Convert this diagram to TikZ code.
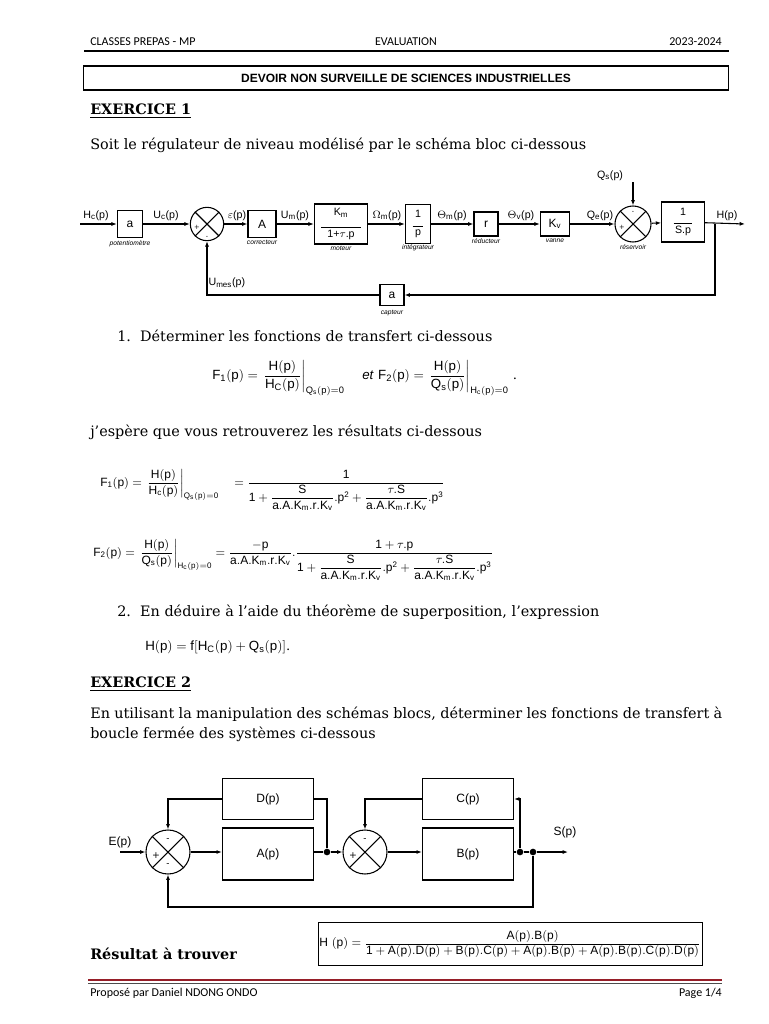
\documentclass[tikz,border=0pt]{standalone}
\usepackage{fontspec}
\usepackage{amsmath}
\setmainfont{DejaVu Serif}
\setsansfont{Liberation Sans}
\newfontfamily\hdr{Carlito}
\usetikzlibrary{arrows.meta}
\definecolor{redline}{RGB}{150,30,40}
\tikzset{
  blk/.style={draw,thick,minimum height=20pt,inner sep=2pt,font=\sffamily\small},
  bblk/.style={draw,very thick,minimum width=68pt,minimum height=31pt,font=\sffamily\small},
  sumc/.style={draw,thick,circle,minimum size=25pt,inner sep=0pt},
  sig/.style={font=\sffamily\footnotesize,anchor=south,inner sep=1pt},
  lbl/.style={font=\sffamily\itshape\tiny,anchor=north},
  ar/.style={-{Latex[length=4pt]},thick},
  ln/.style={thick},
  txt/.style={anchor=west,font=\fontsize{10.8}{12}\selectfont,inner sep=0pt},
  fml/.style={anchor=west,inner sep=0pt,font=\small},
  dot/.style={circle,fill,inner sep=0pt,minimum size=5pt}
}
\newcommand\crossc[1]{\draw[thick] (#1.45)--(#1.225) (#1.135)--(#1.315);}
\begin{document}
\begin{tikzpicture}[x=0.75pt,y=-0.75pt]
\useasboundingbox (0,0) rectangle (768,1024);
% header
\node[anchor=west,font=\hdr\small,inner sep=0] (h1) at (90,42) {CLASSES PREPAS - MP};
\node[font=\hdr\small,inner sep=0] (h2) at (406,42) {EVALUATION};
\node[anchor=east,font=\hdr\small,inner sep=0] (h3) at (722,42) {2023-2024};
\draw[thick] (84,51)--(729,51);
\node[draw,thick,minimum width=484pt,minimum height=18pt,font=\sffamily\bfseries\small] (title) at (406,78) {DEVOIR NON SURVEILLE DE SCIENCES INDUSTRIELLES};
\node[txt,font=\fontsize{10.8}{12}\selectfont\bfseries] (ex1) at (90,111) {\underline{EXERCICE 1}};
\node[txt] (t1) at (90,145) {Soit le régulateur de niveau modélisé par le schéma bloc ci-dessous};
% ---- diagram 1
\coordinate (in1) at (80,224);
\node[blk,minimum width=19pt] (a1) at (130,224) {a};
\node[sumc] (s1) at (207,224) {}; \crossc{s1}
\node[font=\tiny] at (197,227) {+}; \node[font=\tiny] at (207,237) {-};
\node[blk,minimum width=40pt,minimum height=30pt,align=center,font=\sffamily\footnotesize] (Km) at (341,224) {K$_\mathsf{m}$\\[-1pt]\rule{30pt}{0.4pt}\\[-2pt]1+$\tau$.p};
\node[blk,minimum width=21pt] (A) at (262,224) {A};
\node[blk,minimum width=19pt,minimum height=29pt,align=center,font=\sffamily\footnotesize] (ip) at (418,224) {1\\[-3pt]\rule{8pt}{0.4pt}\\[-3pt]p};
\node[blk,minimum width=18pt,minimum height=18pt] (r) at (486,224) {r};
\node[blk,minimum width=22pt,minimum height=18pt] (Kv) at (555,224) {K$_\mathsf{v}$};
\node[sumc,minimum size=27pt] (s2) at (633,224) {}; \crossc{s2}
\node[font=\tiny] at (622,227) {+}; \node[font=\tiny] at (633,212) {-};
\node[blk,minimum width=32pt,minimum height=30pt,align=center,font=\sffamily\footnotesize] (Sp) at (683,222) {1\\[-3pt]\rule{14pt}{0.4pt}\\[-2pt]S.p};
\coordinate (out1) at (745,224);
\coordinate (tk) at (715,224);
\coordinate (qs) at (633,182);
\node[blk,minimum width=18pt,minimum height=16pt] (cap) at (392,295) {a};
\draw[ar] (in1) -- (a1);
\draw[ar] (a1) -- (s1);
\draw[ar] (s1) -- (A);
\draw[ar] (A) -- (Km);
\draw[ar] (Km) -- (ip);
\draw[ar] (ip) -- (r);
\draw[ar] (r) -- (Kv);
\draw[ar] (Kv) -- (s2);
\draw[ar] (s2) -- (Sp);
\draw[ar] (Sp) -- (out1);
\draw[ar] (qs) -- (s2);
\draw[ar] (tk) |- (cap);
\draw[ar] (cap) -| (s1);
\node[sig] at (96,222) {H$_\mathsf{c}$(p)};
\node[sig] at (166,222) {U$_\mathsf{c}$(p)};
\node[sig] at (237,222) {$\varepsilon$(p)};
\node[sig] at (295,222) {U$_\mathsf{m}$(p)};
\node[sig] at (387,222) {$\Omega_\mathsf{m}$(p)};
\node[sig] at (452,222) {$\Theta_\mathsf{m}$(p)};
\node[sig] at (521,222) {$\Theta_\mathsf{v}$(p)};
\node[sig] at (600,222) {Q$_\mathsf{e}$(p)};
\node[sig] at (727,222) {H(p)};
\node[sig] at (610,182) {Q$_\mathsf{s}$(p)};
\node[sig,anchor=west] at (207,283) {U$_\mathsf{mes}$(p)};
\node[lbl] at (130,236) {potentiomètre};
\node[lbl] at (262,235) {correcteur};
\node[lbl] at (341,241) {moteur};
\node[lbl] at (418,240) {intégrateur};
\node[lbl] at (486,234) {réducteur};
\node[lbl] at (555,234) {vanne};
\node[lbl] at (633,240) {réservoir};
\node[lbl] at (392,305) {capteur};
% questions
\node[txt] (q1) at (117,336) {1.\ \ Déterminer les fonctions de transfert ci-dessous};
\node[fml,font=\normalsize] (f12) at (212,378) {$\mathsf{F_1(p)=\left.\dfrac{H(p)}{H_C(p)}\right|_{Q_s(p)=0}}$\quad\ \textsf{\itshape et}\ $\mathsf{F_2(p)=\left.\dfrac{H(p)}{Q_s(p)}\right|_{H_c(p)=0}}$\ .};
\node[txt] (t2) at (90,432) {j’espère que vous retrouverez les résultats ci-dessous};
\node[fml,font=\small] (r1) at (100,490) {$\mathsf{F_1(p)=\left.\dfrac{H(p)}{H_c(p)}\right|_{Q_s(p)=0}\quad =\dfrac{1}{1+\dfrac{S}{a.A.K_m.r.K_v}.p^2+\dfrac{\tau.S}{a.A.K_m.r.K_v}.p^3}}$};
\node[fml,font=\small] (r2) at (93,560) {$\mathsf{F_2(p)=\left.\dfrac{H(p)}{Q_s(p)}\right|_{H_c(p)=0}=\dfrac{-p}{a.A.K_m.r.K_v}.\dfrac{1+\tau.p}{1+\dfrac{S}{a.A.K_m.r.K_v}.p^2+\dfrac{\tau.S}{a.A.K_m.r.K_v}.p^3}}$};
\node[txt] (q2) at (117,612) {2.\ \ En déduire à l’aide du théorème de superposition, l’expression};
\node[fml,font=\normalsize] (hf) at (145,647) {$\mathsf{H(p)=f[H_C(p)+Q_s(p)]}$.};
\node[txt,font=\fontsize{10.8}{12}\selectfont\bfseries] (ex2) at (90,684) {\underline{EXERCICE 2}};
\node[anchor=north west,inner sep=0,text width=474pt,align=justify,font=\fontsize{10.8}{15}\selectfont] (t3) at (90,707) {En utilisant la manipulation des schémas blocs, déterminer les fonctions de transfert à boucle fermée des systèmes ci-dessous};
% ---- diagram 2
\coordinate (in2) at (120,852);
\node[sumc,minimum size=33pt] (S1) at (168,852) {}; \crossc{S1}
\node[font=\scriptsize] at (156,856) {+}; \node[font=\scriptsize] at (168,840) {-}; \node[font=\scriptsize] at (168,865) {-};
\node[bblk,minimum height=39pt] (Ab) at (268,854) {A(p)};
\node[bblk] (Db) at (268,799) {D(p)};
\node[sumc,minimum size=33pt] (S2) at (365,852) {}; \crossc{S2}
\node[font=\scriptsize] at (353,856) {+}; \node[font=\scriptsize] at (365,840) {-};
\node[bblk,minimum height=39pt] (Bb) at (468,854) {B(p)};
\node[bblk] (Cb) at (468,799) {C(p)};
\node[dot] (j1) at (327,852) {};
\node[dot] (j2) at (520,852) {};
\node[dot] (j3) at (533,852) {};
\coordinate (out2) at (568,852);
\draw[ar] (in2) -- (S1);
\draw[ar] (S1) -- (Ab.west|-S1);
\draw[ln] (Ab.east|-j1) -- (j1);
\draw[ar] (j1) -- (S2);
\draw[ar] (S2) -- (Bb.west|-S2);
\draw[ln] (Bb.east|-j2) -- (j2) -- (j3);
\draw[ar] (j3) -- (out2);
\draw[ln] (j1) |- (Db.east);
\draw[ar] (Db.west) -| (S1.north);
\draw[ar] (j2) |- (Cb.east);
\draw[ar] (Cb.west) -| (S2.north);
\draw[ar] (j3) |- (168,907) -- (S1.south);
\node[font=\sffamily\small] at (120,842) {E(p)};
\node[font=\sffamily\small] at (565,832) {S(p)};
\node[txt,font=\fontsize{10.8}{12}\selectfont\bfseries] (res) at (90,954) {Résultat à trouver};
\node[draw,minimum width=284pt,minimum height=32pt,font=\small,inner sep=1pt] (hb) at (510,944) {$\mathsf{H\ (p)=\dfrac{A(p).B(p)}{1+A(p).D(p)+B(p).C(p)+A(p).B(p)+A(p).B(p).C(p).D(p)}}$};
% footer
\draw[redline,line width=1.2pt] (88,980)--(722,980);
\draw[black!70,line width=0.5pt] (88,983)--(722,983);
\node[anchor=west,font=\hdr\small,inner sep=0] (fl) at (90,993) {Proposé par Daniel NDONG ONDO};
\node[anchor=east,font=\hdr\small,inner sep=0] (fr) at (722,993) {Page 1/4};
\end{tikzpicture}
\end{document}
